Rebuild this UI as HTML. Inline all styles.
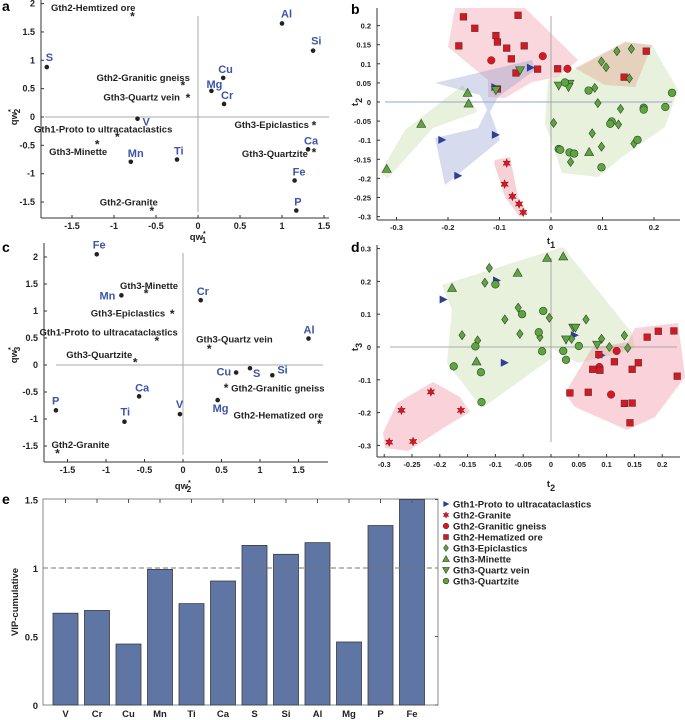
<!DOCTYPE html>
<html><head><meta charset="utf-8"><style>
html,body{margin:0;padding:0;background:#fff}
svg{display:block;font-family:"Liberation Sans",Arial,sans-serif}
.tk{font-size:9px;font-weight:bold;fill:#222}
.tks{font-size:7.5px;font-weight:bold;fill:#222}
.lb{font-size:9.5px;font-weight:bold;fill:#222}
.el{font-size:11px;font-weight:bold;fill:#3b55a8}
.pl{font-size:14px;font-weight:bold;fill:#000}
</style></head><body>
<svg id="fig" width="685" height="720" viewBox="0 0 685 720" xmlns="http://www.w3.org/2000/svg">
<g>
<text class="pl" x="2" y="11">a</text>
<text class="pl" x="351" y="14">b</text>
<text class="pl" x="2" y="252">c</text>
<text class="pl" x="351" y="252">d</text>
<text class="pl" x="2" y="504">e</text>
</g>
<!-- hulls b -->
<g>
<polygon points="455,8 525,8 578,60 558,77 532,82 505,98 488,97 488,80 448,47" fill="rgba(238,140,155,0.35)"/>
<polygon points="548,80 578,68 625,42 652,45 678,90 665,127 622,157 598,177 562,173 545,123" fill="rgba(175,210,140,0.3)"/>
<polygon points="575,68 625,42 652,45 635,87 605,85" fill="rgba(225,150,130,0.35)"/>
<polygon points="380,173 405,130 463,85 477,112 433,128 388,178" fill="rgba(175,210,140,0.3)"/>
<polygon points="435,83 532,60 535,70 498,97 490,112 500,140 445,185 435,138 478,128 487,110 480,95" fill="rgba(120,140,200,0.3)"/>
<polygon points="495,160 510,157 518,197 528,213 520,217 505,197 494,163" fill="rgba(238,140,155,0.4)"/>
</g>
<g>
<polygon points="442,285 563,247 632,333 635,348 612,355 578,363 551,348 552,358 482,408 447,363 452,310" fill="rgba(175,210,140,0.3)"/>
<polygon points="565,393 592,348 628,342 635,328 678,323 685,377 655,417 627,430 575,407" fill="rgba(238,140,155,0.38)"/>
<polygon points="383,433 397,403 433,382 460,397 470,412 445,427 408,451 385,448" fill="rgba(238,140,155,0.38)"/>
</g>
<g id="root"></g>
</svg>
<script>
// ---------- Panel a data ----------
const aNames = ["Gth2-Hemtized ore","Al","Si","S","Cu","Mg","Cr","Gth2-Granitic gneiss","Gth3-Quartz vein","V","Gth1-Proto to ultracataclastics","Gth3-Minette","Mn","Ti","Gth3-Epiclastics","Ca","Gth3-Quartzite","Fe","P","Gth2-Granite"];
const aX = [-0.78,1.0,1.37,-1.8,0.3,0.16,0.31,-0.18,-0.12,-0.72,-0.96,-1.2,-0.8,-0.25,1.38,1.31,1.38,1.15,1.17,-0.55];
const aY = [1.78,1.65,1.17,0.88,0.69,0.46,0.23,0.56,0.34,-0.03,-0.34,-0.48,-0.79,-0.75,-0.14,-0.57,-0.62,-1.12,-1.65,-1.65];
const aTicksX = [-1.5,-1,-0.5,0,0.5,1,1.5];
const aTicksY = [2,1.5,1,0.5,0,-0.5,-1,-1.5];
// ---------- Panel c data ----------
const cNames = ["Fe","Mn","Gth3-Minette","Cr","Gth3-Epiclastics","Gth1-Proto to ultracataclastics","Al","Gth3-Quartz vein","Gth3-Quartzite","Cu","S","Si","Gth2-Granitic gneiss","Ca","Mg","P","V","Ti","Gth2-Hematized ore","Gth2-Granite"];
const cX = [-1.12,-0.8,-0.48,0.23,-0.14,-0.34,1.63,0.34,-0.62,0.69,0.87,1.16,0.56,-0.57,0.45,-1.65,-0.04,-0.76,1.77,-1.63];
const cY = [2.05,1.29,1.33,1.2,0.95,0.45,0.49,0.31,0.06,-0.14,-0.06,-0.19,-0.42,-0.58,-0.65,-0.84,-0.91,-1.05,-1.08,-1.63];
const cTicksX = [-1.5,-1,-0.5,0,0.5,1,1.5];
const cTicksY = [2,1.5,1,0.5,0,-0.5,-1,-1.5];
// ---------- Panel b data (t1,t2) ----------
const bGth1 = [[-0.040,0.090],[-0.109,0.039],[-0.108,-0.086],[-0.212,-0.099],[-0.181,-0.193]];
const bGranite = [[-0.086,-0.160],[-0.090,-0.215],[-0.075,-0.247],[-0.062,-0.267],[-0.054,-0.289]];
const bGneiss = [[-0.116,0.109],[-0.016,0.120],[0.032,0.087]];
const bHematized = [[-0.170,0.223],[-0.064,0.227],[-0.148,0.193],[-0.179,0.147],[-0.107,0.174],[-0.104,0.157],[-0.086,0.141],[-0.052,0.147],[-0.077,0.113],[-0.026,0.086],[-0.068,0.076],[0.013,0.087],[-0.104,0.034],[0.185,0.133],[0.142,0.065]];
const bEpiclastics = [[0.128,0.133],[0.156,0.139],[0.098,0.106],[0.107,0.091],[0.152,0.062],[0.085,0.037],[0.091,-0.003],[0.135,-0.018],[0.005,-0.055],[0.080,-0.082],[0.131,-0.059],[0.098,-0.117],[0.161,-0.109],[0.038,-0.157]];
const bMinette = [[-0.162,0.024],[-0.160,-0.004],[-0.252,-0.057],[-0.319,-0.175],[0.074,-0.131]];
const bQuartzVein = [[-0.060,0.083],[0.015,0.043],[0.036,0.048],[0.034,0.039],[-0.107,0.031]];
const bQuartzite = [[0.027,0.051],[0.073,0.030],[0.235,0.024],[0.180,-0.015],[0.180,-0.020],[0.222,-0.013],[0.118,-0.051],[0.115,-0.057],[0.015,-0.123],[0.018,-0.125],[0.036,-0.132],[0.045,-0.135],[0.098,-0.171],[0.168,-0.099]];
const bTicksX = [-0.3,-0.2,-0.1,0,0.1,0.2];
const bTicksY = [0.2,0.15,0.1,0.05,0,-0.05,-0.1,-0.15,-0.2,-0.25,-0.3];
// ---------- Panel d data (t2,t3) ----------
const dGth1 = [[-0.194,0.145],[-0.098,0.203],[-0.084,-0.048],[0.042,0.036],[0.090,-0.025]];
const dGranite = [[-0.216,-0.137],[-0.269,-0.193],[-0.162,-0.193],[-0.291,-0.290],[-0.248,-0.288]];
const dGneiss = [[0.118,-0.012],[0.087,-0.061],[0.108,-0.145]];
const dHematized = [[0.173,0.030],[0.193,0.048],[0.221,0.049],[0.086,-0.023],[0.114,-0.045],[0.157,-0.048],[0.075,-0.068],[0.088,-0.071],[0.146,-0.068],[0.227,-0.089],[0.034,-0.140],[0.067,-0.138],[0.132,-0.172],[0.146,-0.171],[0.142,-0.231]];
const dEpiclastics = [[-0.111,0.241],[-0.119,0.196],[-0.059,0.120],[-0.083,0.084],[-0.056,0.040],[-0.160,0.036],[-0.132,0.020],[-0.020,0.030],[-0.003,0.089],[0.063,0.084],[0.037,0.025],[0.091,0.025],[0.105,0.000],[0.132,0.035],[0.138,-0.003]];
const dMinette = [[-0.007,0.272],[0.022,0.276],[-0.060,0.226],[-0.178,0.180],[-0.134,-0.044]];
const dQuartzVein = [[0.040,0.059],[0.044,0.059],[0.027,0.023],[0.083,0.007]];
const dQuartzite = [[-0.100,0.191],[-0.052,0.100],[-0.014,0.110],[-0.022,0.045],[-0.136,0.002],[-0.175,-0.059],[-0.126,-0.077],[-0.125,-0.168],[-0.016,-0.013],[0.022,-0.012],[0.027,-0.039],[0.050,0.003]];
const dTicksX = [-0.3,-0.25,-0.2,-0.15,-0.1,-0.05,0,0.05,0.1,0.15,0.2];
const dTicksY = [0.3,0.2,0.1,0,-0.1,-0.2,-0.3];
// ---------- Panel e data ----------
const eCats = ["V","Cr","Cu","Mn","Ti","Ca","S","Si","Al","Mg","P","Fe"];
const eVals = [0.67,0.69,0.445,0.99,0.74,0.905,1.165,1.10,1.185,0.46,1.31,1.5];
const eTicks = [0,0.5,1,1.5];
const legendNames = ["Gth1-Proto to ultracataclastics","Gth2-Granite","Gth2-Granitic gneiss","Gth2-Hematized ore","Gth3-Epiclastics","Gth3-Minette","Gth3-Quartz vein","Gth3-Quartzite"];

const NS="http://www.w3.org/2000/svg";
const root=document.getElementById('root');
function mk(tag,attrs,parent,txt){const e=document.createElementNS(NS,tag);for(const k in attrs)e.setAttribute(k,attrs[k]);if(txt!==undefined)e.textContent=txt;(parent||root).appendChild(e);return e;}
function grp(name){const g=mk('g',{});


return g;}

// scales
const axA=v=>198+84*v, ayA=v=>117-56.7*v;
const axC=v=>183+77*v, ayC=v=>365-54*v;
const axB=v=>551+515*v, ayB=v=>102-382*v;
const axD=v=>551+556*v, ayD=v=>347-328*v;
const ayE=v=>705-137*v;
const exE=i=>65.5+i*31.5;

function fmt(v){let s=String(v);s=s.replace(/^0\./,'0.').replace(/^-0\./,'-0.');return s;}

function axes(name,x0,x1,y0,y1,ticksX,ticksY,sx,sy,cls,labY){
  const g=grp(name);
  mk('line',{x1:x0,y1:y0,x2:x0,y2:y1,stroke:'#333','stroke-width':1},g);
  mk('line',{x1:x0,y1:y1,x2:x1,y2:y1,stroke:'#333','stroke-width':1},g);
  ticksX.forEach(t=>{const x=sx(t);mk('line',{x1:x,y1:y1,x2:x,y2:y1-3,stroke:'#333'},g);
    const tx=mk('text',{x:x,y:labY,'text-anchor':'middle','class':cls},g,fmt(t));
    
    });
  ticksY.forEach(t=>{const y=sy(t);mk('line',{x1:x0,y1:y,x2:x0+3,y2:y,stroke:'#333'},g);
    const tx=mk('text',{x:x0-6,y:y+3,'text-anchor':'end','class':cls},g,fmt(t));
    
    });
  return g;
}
function cross(g,x,yA,yB,y,xA,xB,col){mk('line',{x1:x,y1:yA,x2:x,y2:yB,stroke:'#aaa','stroke-width':1},g);mk('line',{x1:xA,y1:y,x2:xB,y2:y,stroke:col||'#aaa','stroke-width':1},g);}
function qwLabel(g,x,y,sub,rot){const t=mk('text',{x:x,y:y,'text-anchor':'middle','class':'lb','font-size':'11',transform:rot?`rotate(-90 ${x} ${y})`:''},g);
  
  
  mk('tspan',{},t,'qw');mk('tspan',{'font-size':'7',dy:'-4'},t,'*');mk('tspan',{'font-size':'8',dy:'7',dx:'-4'},t,sub);}
function tLabel(g,x,y,sub,rot){const t=mk('text',{x:x,y:y,'text-anchor':'middle','class':'lb','font-size':'12',transform:rot?`rotate(-90 ${x} ${y})`:''},g);
  
  
  mk('tspan',{},t,'t');mk('tspan',{'font-size':'9',dy:'4'},t,sub);}
function dot(g,x,y){mk('circle',{cx:x,cy:y,r:2.3,fill:'#222'},g);}
function ast(g,x,y){mk('text',{x:x,y:y+4.5,'text-anchor':'middle','font-size':'12','font-weight':'bold',fill:'#222'},g,'*');}

// Panel a
const gA=axes('panel-a-axes',41,329,0,218,aTicksX,aTicksY,axA,ayA,'tk',229);
cross(gA,198,16,212,117,45,329);
qwLabel(gA,198,240,'1',false);qwLabel(gA,17,117,'2',true);
const aLab=[[3,-5,'end'],[-1,-6,'start'],[-2,-6,'start'],[-1,-6,'start'],[-5,-5,'start'],[-5,-3,'start'],[-3,-5,'start'],[7,-4,'end'],[-8,3,'end'],[5,7,'start'],[55,-4,'end'],[10,11,'end'],[-3,-5,'start'],[-3,-5,'start'],[-5,3,'end'],[-4,-5,'start'],[-6,5,'end'],[-2,-5,'start'],[-2,-5,'start'],[6,-5,'end']];
function plotLoad(names,xs,ys,sx,sy,lab,pname){
  const g=grp(pname);
  names.forEach((n,i)=>{const x=sx(xs[i]),y=sy(ys[i]);const isG=n.startsWith('Gth');
    const pg=mk('g',{},g);
    
    
    if(isG)ast(pg,x,y);else dot(pg,x,y);
    mk('text',{x:x+lab[i][0],y:y+lab[i][1],'text-anchor':lab[i][2],'class':isG?'lb':'el'},pg,n);});
}
plotLoad(aNames,aX,aY,axA,ayA,aLab,'panel-a-points');

// Panel c
const gC=axes('panel-c-axes',44,328,243,462,cTicksX,cTicksY,axC,ayC,'tk',473);
cross(gC,183,253,455,365,56,323);
qwLabel(gC,183,489,'2',false);qwLabel(gC,17,355,'3',true);
const cLab=[[-4,-6,'start'],[-6,4,'end'],[32,-4,'end'],[-4,-5,'start'],[-7,3,'end'],[21,-5,'end'],[-5,-5,'start'],[-13,-6,'start'],[-3,-4,'end'],[-5,3,'end'],[3,9,'start'],[5,-2,'start'],[5,4,'start'],[-4,-5,'start'],[-5,12,'start'],[-4,-6,'start'],[-4,-6,'start'],[-4,-6,'start'],[4,-5,'end'],[-6,-5,'start']];
plotLoad(cNames,cX,cY,axC,ayC,cLab,'panel-c-points');

// markers
const C={red:'#e0141e',green:'#5aa83a',blue:'#2d3f94',stroke:'#3a3a3a'};
function marker(g,type,x,y,s){s=s||1;let e;
  if(type==='tri-r')e=mk('polygon',{points:`${x-3.5*s},${y-4*s} ${x+4.5*s},${y} ${x-3.5*s},${y+4*s}`,fill:C.blue,stroke:'none'},g);
  else if(type==='star'){let p=[];for(let k=0;k<12;k++){const a=Math.PI/6*k-Math.PI/2,r=(k%2?2:4.3)*s;p.push((x+r*Math.cos(a)).toFixed(1)+','+(y+r*Math.sin(a)).toFixed(1));}e=mk('polygon',{points:p.join(' '),fill:C.red,stroke:'#7a1010','stroke-width':0.5},g);}
  else if(type==='circ-r')e=mk('circle',{cx:x,cy:y,r:3.8*s,fill:C.red,stroke:C.stroke,'stroke-width':0.5},g);
  else if(type==='sq')e=mk('rect',{x:x-3.3*s,y:y-3.3*s,width:6.6*s,height:6.6*s,fill:C.red,stroke:C.stroke,'stroke-width':0.6},g);
  else if(type==='dia')e=mk('polygon',{points:`${x},${y-4.5*s} ${x+3.2*s},${y} ${x},${y+4.5*s} ${x-3.2*s},${y}`,fill:C.green,stroke:C.stroke,'stroke-width':0.6},g);
  else if(type==='tri-u')e=mk('polygon',{points:`${x},${y-4.5*s} ${x+4.5*s},${y+3.5*s} ${x-4.5*s},${y+3.5*s}`,fill:C.green,stroke:C.stroke,'stroke-width':0.6},g);
  else if(type==='tri-d')e=mk('polygon',{points:`${x-4.5*s},${y-3.5*s} ${x+4.5*s},${y-3.5*s} ${x},${y+4.5*s}`,fill:C.green,stroke:C.stroke,'stroke-width':0.6},g);
  else e=mk('circle',{cx:x,cy:y,r:3.8*s,fill:C.green,stroke:C.stroke,'stroke-width':0.6},g);
  return e;}
const types=['tri-r','star','circ-r','sq','dia','tri-u','tri-d','circ-g'];
function scatter(pname,sets,sx,sy){const g=grp(pname);
  sets.forEach((set,j)=>set.forEach(p=>{const m=marker(g,types[j],sx(p[0]),sy(p[1]));
    
    }));}

// Panel b
const gB=axes('panel-b-axes',377,680,8,220,bTicksX,bTicksY.filter((v,i)=>true),axB,ayB,'tks',230);
cross(gB,551,16,213,102,385,672,'#9aa4c8');
tLabel(gB,551,244,'1',false);tLabel(gB,358,102,'2',true);
scatter('panel-b-points',[bGth1,bGranite,bGneiss,bHematized,bEpiclastics,bMinette,bQuartzVein,bQuartzite],axB,ayB);

// Panel d
const gD=axes('panel-d-axes',377,680,245,457,dTicksX,dTicksY,axD,ayD,'tks',467);
cross(gD,551,258,442,347,390,677);
tLabel(gD,551,487,'2',false);tLabel(gD,358,347,'3',true);
scatter('panel-d-points',[dGth1,dGranite,dGneiss,dHematized,dEpiclastics,dMinette,dQuartzVein,dQuartzite],axD,ayD);

// Panel e
const gE=grp('panel-e-bar-chart');
mk('rect',{x:43,y:499,width:395,height:206,fill:'none',stroke:'#888','stroke-width':1},gE);
eTicks.forEach(t=>{const tx=mk('text',{x:38,y:ayE(t)+4,'text-anchor':'end','class':'lb','font-size':'10.5'},gE,fmt(t));
  
  
  mk('line',{x1:435,y1:ayE(t),x2:438,y2:ayE(t),stroke:'#555'},gE);});
eVals.forEach((v,i)=>{const x=exE(i);
  const r=mk('rect',{x:x-12.5,y:ayE(v),width:25,height:705-ayE(v),fill:'#5f76a4',stroke:'#3a3a3a','stroke-width':0.8},gE);
  
  
  mk('line',{x1:x,y1:499,x2:x,y2:503,stroke:'#555'},gE);
  const tx=mk('text',{x:x,y:717,'text-anchor':'middle','class':'lb','font-size':'11.5'},gE,eCats[i]);
  
  });
const ref=mk('line',{x1:43,y1:ayE(1),x2:438,y2:ayE(1),stroke:'#777','stroke-dasharray':'5,3','stroke-width':1},gE);


const yt=mk('text',{x:18,y:602,'text-anchor':'middle','class':'lb','font-size':'10.5',transform:'rotate(-90 18 602)'},gE,'VIP-cumulative');



// legend
const gL=grp('legend');
legendNames.forEach((n,i)=>{const y=504+i*11;const eg=mk('g',{},gL);
  
  
  marker(eg,types[i],446,y,0.75);
  mk('text',{x:453,y:y+3.5,'class':'lb','font-size':'9.5'},eg,n);});
</script>
</body></html>
